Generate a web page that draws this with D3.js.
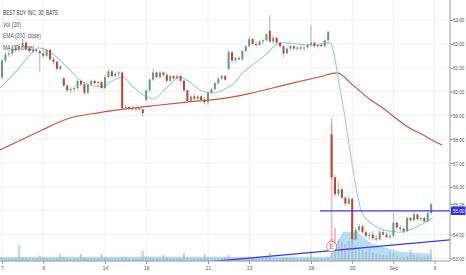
<!DOCTYPE html>
<html>
<head>
<meta charset="utf-8">
<script src="https://cdnjs.cloudflare.com/ajax/libs/d3/7.8.5/d3.min.js"></script>
<style>
  body { margin: 0; background: #fff; }
  svg { display: block; font-family: "Liberation Sans", Arial, sans-serif; }
</style>
</head>
<body>
<svg id="chart" width="466" height="275"></svg>
<script>
// trading days Aug 7 .. Sep 6 2017, 6 bars per day (approximate 30 min bars)
const dayLabels = ['7', '9', '14', '16', '21', '23', '28', '30', 'Sep', '6']
const dayLabelIdx = [0, 2, 5, 7, 10, 12, 15, 17, 19, 21]
const priceTicks = [53, 54, 55, 56, 57, 58, 59, 60, 61, 62, 63]

const opens = [
  60.6, 61.3, 61.55, 61.6, 61.8, 61.75,
  61.9, 62.05, 61.8, 61.7, 61.75, 61.7,
  61.6, 61.5, 61.75, 61.35, 61.25, 60.95,
  60.55, 60.25, 60.05, 60.1, 60.15, 60.45,
  60.3, 59.95, 60.3, 60.45, 60.35, 60.4,
  60.15, 60.6, 60.85, 60.65, 60.75, 60.8,
  59.3, 59.35, 59.3, 59.25, 59.3, 59.25,
  59.65, 60.05, 60.5, 60.8, 60.6, 60.8,
  60.7, 60.45, 60.65, 60.55, 60.65, 60.45,
  60.05, 59.6, 59.8, 59.7, 59.8, 59.65,
  59.55, 59.95, 60.1, 60.35, 60.55, 60.65,
  60.95, 61.65, 61.3, 61.4, 61.35, 61.7,
  61.9, 62.2, 62.0, 61.95, 62.1, 62.15,
  62.55, 62.1, 62.25, 62.05, 61.9, 61.6,
  61.8, 61.9, 61.8, 61.85, 61.8, 61.85,
  61.95, 62.05, 61.9, 61.95, 61.9, 62.15,
  58.2, 56.4, 55.7, 55.9, 55.55, 55.3,
  55.5, 53.8, 54.2, 54.35, 54.1, 53.95,
  54.0, 53.85, 53.8, 54.1, 54.0, 53.9,
  53.95, 54.5, 54.3, 54.25, 54.15, 54.7,
  54.6, 54.85, 54.65, 54.7, 54.55, 54.9
]
const highs = [
  61.35, 61.65, 61.75, 61.9, 61.95, 62.0,
  62.2, 62.1, 61.9, 61.85, 61.8, 61.75,
  61.85, 61.8, 61.8, 61.45, 61.3, 61.1,
  60.6, 60.3, 60.2, 60.25, 60.5, 60.5,
  60.4, 60.35, 60.5, 60.5, 60.45, 60.45,
  60.7, 60.95, 60.9, 60.8, 60.85, 60.85,
  59.45, 59.4, 59.4, 59.35, 59.35, 59.3,
  60.1, 60.55, 60.95, 60.85, 60.85, 60.85,
  60.8, 60.7, 60.7, 60.7, 60.7, 60.5,
  60.1, 59.85, 59.9, 59.85, 59.85, 59.75,
  60.0, 60.15, 60.4, 60.6, 60.7, 60.7,
  61.75, 61.7, 61.45, 61.5, 61.75, 61.95,
  62.3, 62.25, 62.1, 62.15, 62.2, 62.45,
  63.2, 62.35, 62.3, 62.1, 61.95, 61.85,
  61.95, 61.95, 61.9, 61.95, 61.9, 62.0,
  62.8, 62.1, 62.0, 62.05, 62.2, 62.55,
  58.9, 56.5, 56.2, 56.0, 55.6, 55.65,
  55.55, 54.3, 54.45, 54.4, 54.2, 54.1,
  54.15, 54.0, 54.2, 54.2, 54.1, 54.05,
  54.9, 54.55, 54.4, 54.3, 54.75, 54.75,
  55.0, 54.9, 54.75, 54.75, 54.95, 55.35
]
const lows = [
  60.5, 61.2, 61.45, 61.5, 61.65, 61.7,
  61.8, 61.75, 61.6, 61.6, 61.6, 60.8,
  61.4, 61.45, 61.3, 61.15, 60.9, 60.9,
  60.2, 60.0, 59.95, 60.0, 60.1, 60.2,
  59.85, 59.9, 60.25, 60.3, 60.2, 60.1,
  60.1, 60.55, 60.6, 60.6, 60.6, 59.25,
  59.2, 59.2, 59.2, 59.15, 59.2, 58.95,
  59.6, 60.0, 60.45, 60.55, 60.55, 60.6,
  60.35, 60.4, 60.5, 60.5, 60.4, 60.0,
  59.55, 59.5, 59.65, 59.6, 59.6, 59.45,
  59.45, 59.9, 60.05, 60.3, 60.5, 60.45,
  60.9, 61.2, 61.25, 61.3, 61.3, 61.65,
  61.85, 61.95, 61.85, 61.9, 62.0, 62.1,
  62.05, 62.0, 62.0, 61.85, 61.45, 61.55,
  61.7, 61.75, 61.7, 61.75, 61.7, 61.8,
  61.9, 61.85, 61.8, 61.85, 61.85, 62.1,
  56.3, 55.6, 55.6, 55.5, 55.2, 55.25,
  53.6, 53.75, 54.1, 54.05, 53.85, 53.8,
  53.75, 53.7, 53.75, 53.95, 53.85, 53.8,
  53.9, 54.25, 54.15, 54.05, 54.1, 54.55,
  54.55, 54.6, 54.55, 54.5, 54.5, 54.85
]
const closes = [
  61.3, 61.55, 61.6, 61.8, 61.75, 61.9,
  62.05, 61.8, 61.7, 61.75, 61.7, 61.6,
  61.5, 61.75, 61.35, 61.25, 60.95, 61.05,
  60.25, 60.05, 60.1, 60.15, 60.45, 60.3,
  59.95, 60.3, 60.45, 60.35, 60.4, 60.15,
  60.6, 60.85, 60.65, 60.75, 60.8, 59.3,
  59.35, 59.3, 59.25, 59.3, 59.25, 59.1,
  60.05, 60.5, 60.8, 60.6, 60.8, 60.7,
  60.45, 60.65, 60.55, 60.65, 60.45, 60.05,
  59.6, 59.8, 59.7, 59.8, 59.65, 59.55,
  59.95, 60.1, 60.35, 60.55, 60.65, 60.5,
  61.65, 61.3, 61.4, 61.35, 61.7, 61.9,
  62.2, 62.0, 61.95, 62.1, 62.15, 62.4,
  62.1, 62.25, 62.05, 61.9, 61.6, 61.8,
  61.9, 61.8, 61.85, 61.8, 61.85, 61.95,
  62.05, 61.9, 61.95, 61.9, 62.15, 62.5,
  56.4, 55.7, 55.9, 55.55, 55.3, 55.5,
  53.8, 54.2, 54.35, 54.1, 53.95, 54.0,
  53.85, 53.8, 54.1, 54.0, 53.9, 53.95,
  54.5, 54.3, 54.25, 54.15, 54.7, 54.6,
  54.85, 54.65, 54.7, 54.55, 54.9, 55.28
]
// volume, thousands of shares
const volumes = [
  70, 60, 55, 60, 65, 330,
  80, 60, 55, 50, 60, 110,
  75, 60, 55, 55, 60, 150,
  80, 60, 50, 55, 60, 150,
  75, 60, 55, 50, 55, 150,
  70, 65, 55, 55, 60, 85,
  70, 55, 50, 50, 55, 210,
  80, 65, 60, 55, 55, 130,
  70, 55, 50, 55, 60, 170,
  75, 55, 50, 50, 55, 150,
  70, 55, 50, 55, 60, 80,
  130, 60, 55, 50, 55, 70,
  70, 55, 50, 55, 50, 75,
  170, 60, 55, 55, 60, 75,
  65, 55, 50, 50, 55, 80,
  200, 60, 55, 55, 60, 80,
  2850, 680, 450, 400, 350, 420,
  520, 300, 250, 220, 200, 260,
  180, 150, 140, 130, 120, 200,
  160, 110, 90, 90, 100, 230,
  120, 90, 80, 85, 100, 250
]
// indicator lines: [bar index, value]
const volMA20 = [[-1, 85], [15, 88], [30, 90], [45, 92], [60, 88], [75, 86], [90, 88], [95.5, 90],
  [97.7, 400], [99.3, 600], [103.4, 610], [105, 500], [108, 350], [113, 250], [116, 190], [125, 150]]
const ema200 = [[-0.6, 57.55], [5.2, 57.95], [11.7, 58.39], [18.9, 58.85], [28.5, 59.12], [35.8, 59.27],
  [43.1, 59.39], [53.9, 59.56], [63.5, 59.69], [69.3, 59.83], [73.1, 59.95], [83, 60.3], [92.6, 60.62],
  [97.6, 60.78], [102.2, 60.27], [107.2, 59.67], [110.1, 59.39], [119.7, 58.39], [121.7, 58.26],
  [125.2, 57.97], [128.2, 57.76]]
const ma30 = [[-0.6, 60.15], [4.4, 60.9], [9.0, 61.66], [10.5, 61.83], [14.0, 61.66], [18.9, 61.03],
  [22.7, 60.48], [26.5, 60.23], [29.4, 60.19], [31.5, 60.4], [35.2, 60.61], [38.2, 60.19], [42.2, 59.77],
  [44.0, 59.69], [48.1, 60.19], [51.8, 60.61], [53.9, 60.48], [57.7, 60.07], [61.5, 59.94], [65.5, 60.15],
  [67.3, 60.3], [69.9, 60.75], [73.7, 61.2], [77.2, 61.6], [79.8, 61.95], [82.4, 62.05], [86.8, 61.98],
  [91.2, 61.95], [95.5, 62.05], [99.0, 59.65], [104.9, 54.9], [107.8, 54.45], [111.0, 54.2],
  [115.9, 54.1], [121.8, 54.4], [125.5, 54.7]]
const trendLines = [
  [[60, 52.86], [130.5, 53.78]],
  [[92.6, 55.0], [130.5, 55.0]]
]
const earningsBar = 96
const lastPrice = 55.28
const markedPrice = 55.0

const plotR = 450
const plotB = 261
const up = '#5f9e78'
const down = '#c4412f'

const svg = d3.select('#chart')
const x = d3.scaleLinear().domain([0, 126]).range([2, 434.6])
const y = d3.scaleLinear().domain([53, 63]).range([258.5, 20])
const yv = d3.scaleLinear().domain([0, 3000]).range([plotB, 116])

svg.append('defs').append('clipPath').attr('id', 'plot')
  .append('rect').attr('x', 0).attr('y', 0).attr('width', plotR).attr('height', plotB)

// grid
const grid = svg.append('g').attr('stroke', '#eef0f3').attr('stroke-width', 1)
grid.selectAll('.h').data(priceTicks).join('line')
  .attr('x1', 0).attr('x2', plotR).attr('y1', d => y(d)).attr('y2', d => y(d))
grid.selectAll('.v').data(dayLabelIdx).join('line')
  .attr('x1', d => x(d * 6)).attr('x2', d => x(d * 6)).attr('y1', 0).attr('y2', plotB)

const plot = svg.append('g').attr('clip-path', 'url(#plot)')
const bars = d3.range(closes.length)

// volume
plot.append('g').selectAll('rect').data(bars).join('rect')
  .attr('x', i => x(i) - 1).attr('width', 2)
  .attr('y', i => yv(volumes[i])).attr('height', i => plotB - yv(volumes[i]))
  .attr('fill', i => closes[i] >= opens[i] ? 'rgba(107,165,131,0.4)' : 'rgba(215,84,66,0.35)')

plot.append('path').datum(volMA20)
  .attr('fill', 'rgba(110,190,235,0.5)')
  .attr('d', d3.area().x(d => x(d[0])).y0(plotB).y1(d => yv(d[1])))

// moving averages
plot.append('path').datum(ema200)
  .attr('fill', 'none').attr('stroke', '#c9553c').attr('stroke-width', 1.2)
  .attr('d', d3.line().x(d => x(d[0])).y(d => y(d[1])).curve(d3.curveMonotoneX))
plot.append('path').datum(ma30)
  .attr('fill', 'none').attr('stroke', '#9fcbe6').attr('stroke-width', 1.1)
  .attr('d', d3.line().x(d => x(d[0])).y(d => y(d[1])).curve(d3.curveMonotoneX))

// candles
const candles = plot.append('g')
candles.selectAll('line').data(bars).join('line')
  .attr('x1', i => x(i)).attr('x2', i => x(i))
  .attr('y1', i => y(highs[i])).attr('y2', i => y(lows[i]))
  .attr('stroke', '#a3a3a3').attr('stroke-width', 0.8)
candles.selectAll('rect').data(bars).join('rect')
  .attr('x', i => x(i) - 1).attr('width', 2)
  .attr('y', i => y(Math.max(opens[i], closes[i])))
  .attr('height', i => Math.max(0.8, Math.abs(y(opens[i]) - y(closes[i]))))
  .attr('fill', i => closes[i] >= opens[i] ? up : down)

// drawings
plot.append('g').selectAll('line').data(trendLines).join('line')
  .attr('x1', d => x(d[0][0])).attr('y1', d => y(d[0][1]))
  .attr('x2', d => x(d[1][0])).attr('y2', d => y(d[1][1]))
  .attr('stroke', '#3b3bf5').attr('stroke-width', 1.3)

// earnings marker
const ex = x(earningsBar)
const ey = 246.5
const mark = svg.append('g')
mark.append('path').attr('d', `M${ex - 2.5},${ey - 4} L${ex},${ey - 7.5} L${ex + 2.5},${ey - 4}Z`)
  .attr('fill', '#fff').attr('stroke', '#ef6b6b').attr('stroke-width', 0.9)
mark.append('circle').attr('cx', ex).attr('cy', ey).attr('r', 5)
  .attr('fill', '#fff').attr('stroke', '#ef6b6b').attr('stroke-width', 0.9)
mark.append('text').attr('x', ex).attr('y', ey + 2.2).attr('text-anchor', 'middle')
  .attr('font-size', 6.5).attr('fill', '#e0504f').text('E')

// axes
svg.append('line').attr('x1', 0).attr('x2', plotR).attr('y1', plotB).attr('y2', plotB)
  .attr('stroke', '#9a9a9a')
svg.append('line').attr('x1', plotR).attr('x2', plotR).attr('y1', 0).attr('y2', plotB)
  .attr('stroke', '#9a9a9a')

const yAxis = svg.append('g').attr('transform', `translate(${plotR},0)`)
  .call(d3.axisRight(y).tickValues(priceTicks.concat([lastPrice])).tickFormat(d3.format('.2f')).tickSize(3))
yAxis.select('.domain').remove()
yAxis.selectAll('line').attr('stroke', '#9a9a9a')
yAxis.selectAll('text').attr('x', 0).attr('transform', 'translate(3,0) scale(0.76,1)')
  .attr('font-size', 6).attr('fill', '#555').attr('font-family', null)

// marked level badge
const badge = svg.append('g').attr('transform', `translate(${plotR + 1},${y(markedPrice)})`)
badge.append('rect').attr('x', 0).attr('y', -4.2).attr('width', 14.5).attr('height', 8.4).attr('fill', '#2f2ff5')
badge.append('text').attr('transform', 'translate(2,2.1) scale(0.76,1)').attr('font-size', 6).attr('fill', '#fff')
  .text(d3.format('.2f')(markedPrice))

const xAxis = svg.append('g').attr('transform', `translate(0,${plotB})`)
  .call(d3.axisBottom(x).tickValues(dayLabelIdx.map(d => d * 6))
    .tickFormat((d, i) => dayLabels[i]).tickSize(3).tickPadding(1.5))
xAxis.select('.domain').remove()
xAxis.selectAll('line').attr('stroke', '#9a9a9a')
xAxis.selectAll('text').attr('font-size', 6).attr('fill', '#555').attr('font-family', null)
  .attr('transform', 'scale(0.8,1)').attr('x', function () { return 0 })
xAxis.selectAll('.tick text').attr('transform', 'scale(0.8,1)')

// legend
const legend = [
  ['BEST BUY INC, 30, BATS', '#3a3a3a', 55],
  ['Vol (20)', '#555', 18],
  ['EMA (200, close)', '#555', 38],
  ['MA (30, close)', '#555', 31]
]
svg.append('g').selectAll('text').data(legend).join('text')
  .attr('x', 3).attr('y', (d, i) => 15 + i * 11.5)
  .attr('font-size', 7).attr('fill', d => d[1])
  .attr('textLength', d => d[2]).attr('lengthAdjust', 'spacingAndGlyphs')
  .text(d => d[0])
</script>
</body>
</html>
